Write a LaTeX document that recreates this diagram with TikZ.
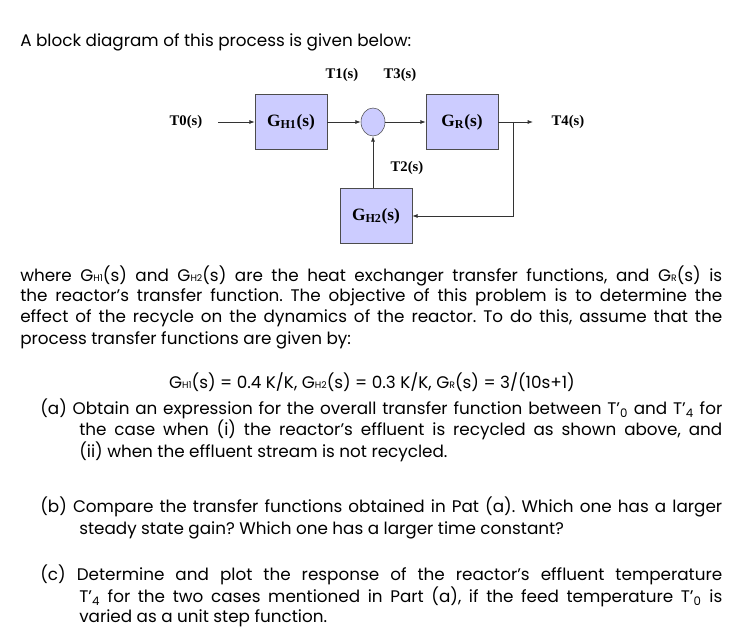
\documentclass[tikz,border=0pt]{standalone}
\usepackage{fontspec}
\setmainfont{Poppins}
\newfontfamily\tms{Liberation Serif}
\usetikzlibrary{arrows.meta,shapes.geometric}
\newcommand{\lsub}[1]{\textsubscript{#1}}
\newcommand{\gs}[1]{G{\scriptsize #1}}
\frenchspacing
\begin{document}
\begin{tikzpicture}[x=0.75pt,y=-0.75pt,
  blk/.style={draw=black!70,fill=blue!20!white,minimum width=54pt,minimum height=41pt,inner sep=0pt,font=\tms\bfseries\fontsize{13}{15}\selectfont},
  lbl/.style={font=\tms\bfseries\fontsize{11}{13}\selectfont},
  arr/.style={-{Latex[length=4pt,width=3pt]},black!80,line width=0.6pt},
  ln/.style={line width=0.6pt,black!80},
  txt/.style={anchor=west,inner sep=0pt,font=\fontsize{12.6}{14}\selectfont},
  jt/.style={anchor=west,inner sep=0pt,font=\fontsize{12.6}{14}\selectfont,align=justify}]
\useasboundingbox (0,0) rectangle (742,631);
\newcommand{\jl}[4]{\node[jt,text width=#3*0.75pt] at (#1,#2) {\frenchspacing\parfillskip=0pt #4\par};}
% diagram
\node[lbl] (t0) at (186,122) {T0(s)};
\node[blk] (gh1) at (291,122) {G\textsubscript{H1}(s)};
\node[draw=black!70,fill=blue!20!white,ellipse,minimum width=18pt,minimum height=21pt,inner sep=0pt] (sum) at (373,122) {};
\node[blk] (gr) at (462,122) {G\textsubscript{R}(s)};
\node[blk] (gh2) at (376,216) {G\textsubscript{H2}(s)};
\node[lbl] (t4) at (568,122) {T4(s)};
\node[lbl] (t1) at (342,75) {T1(s)};
\node[lbl] (t3) at (400,75) {T3(s)};
\node[lbl] (t2) at (407,168) {T2(s)};
\coordinate (s0) at (218,122);
\coordinate (br) at (513,122);
\coordinate (o) at (533,122);
\draw[arr] (s0) -- (gh1);
\draw[arr] (gh1) -- (sum);
\draw[arr] (sum) -- (gr);
\draw[ln] (gr) -- (br);
\draw[arr] (br) -- (o);
\draw[arr] (br) |- (gh2.east);
\draw[arr] (gh2.north -| sum) -- (sum);
% text
\node[txt] (title) at (20,42) {A block diagram of this process is given below:};
\jl{20}{276}{702}{where \gs{H1}(s) and \gs{H2}(s) are the heat exchanger transfer functions, and \gs{R}(s) is}
\jl{20}{297}{702}{the reactor's transfer function. The objective of this problem is to determine the}
\jl{20}{318}{702}{effect of the recycle on the dynamics of the reactor. To do this, assume that the}
\node[txt] (l4) at (20,340) {process transfer functions are given by:};
\node[txt,anchor=center] (eq) at (372,382) {\gs{H1}(s) = 0.4 K/K, \gs{H2}(s) = 0.3 K/K, \gs{R}(s) = 3/(10s+1)};
\jl{40}{409}{682}{(a) Obtain an expression for the overall transfer function between T'\lsub{0} and T'\lsub{4} for}
\jl{79}{430}{643}{the case when (i) the reactor's effluent is recycled as shown above, and}
\node[txt] (a3) at (79,452) {(ii) when the effluent stream is not recycled.};
\jl{40}{507}{682}{(b) Compare the transfer functions obtained in Pat (a). Which one has a larger}
\node[txt] (b2) at (79,530) {steady state gain? Which one has a larger time constant?};
\jl{40}{575}{682}{(c) Determine and plot the response of the reactor's effluent temperature}
\jl{79}{597}{643}{T'\lsub{4} for the two cases mentioned in Part (a), if the feed temperature T'\lsub{0} is}
\node[txt] (c3) at (79,618) {varied as a unit step function.};
\end{tikzpicture}
\end{document}
